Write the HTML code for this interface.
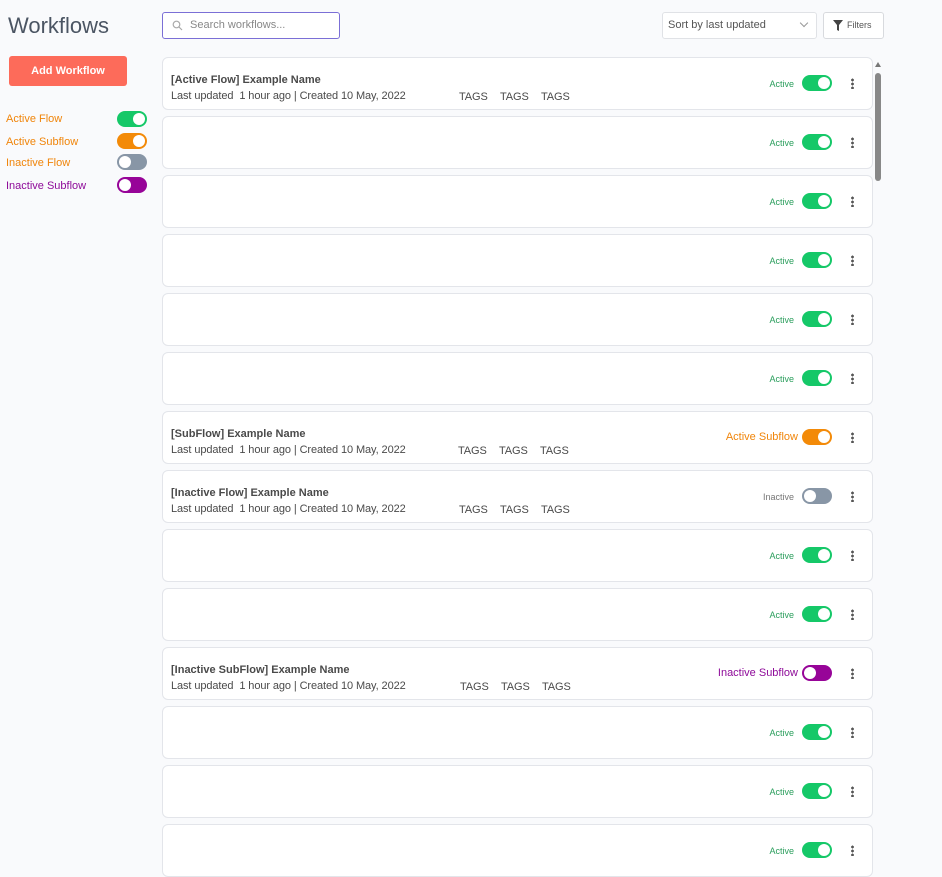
<!DOCTYPE html>
<html><head><meta charset="utf-8"><style>
*{box-sizing:border-box;margin:0;padding:0}
body{width:942px;height:873px;background:#f9fafc;font-family:"Liberation Sans",sans-serif;position:relative;overflow:hidden;color:#4a4a4a}
.a{position:absolute;white-space:nowrap}
.card{position:absolute;left:162px;width:711px;height:53px;background:#fff;border:1px solid #e3e5ea;border-radius:6px}
.tg{position:absolute;width:30px;height:16px;border-radius:8px}
.tg::after{content:"";position:absolute;top:2px;width:12px;height:12px;border-radius:50%;background:#fff}
.on::after{right:2px}.off::after{left:2px}
.dots{position:absolute;left:851px;width:3px;height:11px;background:radial-gradient(circle,#555 1.3px,transparent 1.5px) 0 0/3px 4px repeat-y}
.t1{font-size:11px;font-weight:bold;color:#4a4a4a}
.t2{font-size:11px;color:#4a4a4a;letter-spacing:-0.1px}
</style></head><body>
<div class="a" style="left:8px;top:13px;font-size:22px;color:#4b5563">Workflows</div>
<div class="a" style="left:162px;top:12px;width:178px;height:27px;border:1px solid #7b6fd6;border-radius:3px;background:#fff"></div>
<svg class="a" style="left:172px;top:20px" width="11" height="11"><circle cx="4.5" cy="4.5" r="3.3" fill="none" stroke="#aaa" stroke-width="1.2"/><line x1="7" y1="7" x2="10" y2="10" stroke="#aaa" stroke-width="1.2"/></svg>
<div class="a" style="left:190px;top:19px;font-size:11px;color:#888">Search workflows...</div>
<div class="a" style="left:662px;top:12px;width:155px;height:27px;border:1px solid #e0e2e6;border-radius:3px;background:#fff"></div>
<div class="a" style="left:668px;top:19px;font-size:11px;color:#555">Sort by last updated</div>
<div class="a" style="left:801px;top:20px;width:6px;height:6px;border-right:1px solid #999;border-bottom:1px solid #999;transform:rotate(45deg)"></div>
<div class="a" style="left:823px;top:12px;width:61px;height:27px;border:1px solid #d8dade;border-radius:3px;background:#fff"></div>
<svg class="a" style="left:833px;top:20px" width="10" height="11"><path d="M0 0H10L6 5V11L4 10V5Z" fill="#444"/></svg>
<div class="a" style="left:847px;top:20px;font-size:9px;color:#555">Filters</div>
<div class="a" style="left:9px;top:56px;width:118px;height:30px;background:#fd6b5a;border-radius:3px;color:#fff;font-size:11px;font-weight:bold;text-align:center;line-height:31px">Add Workflow</div>
<div class="a" style="left:6px;top:113px;font-size:11px;color:#f0850a">Active Flow</div>
<div class="a" style="left:6px;top:136px;font-size:11px;color:#f0850a">Active Subflow</div>
<div class="a" style="left:6px;top:157px;font-size:11px;color:#f0850a">Inactive Flow</div>
<div class="a" style="left:6px;top:180px;font-size:11px;color:#8e0a99">Inactive Subflow</div>
<div class="tg on" style="left:117px;top:111px;background:#15c868"></div>
<div class="tg on" style="left:117px;top:133px;background:#f38a08"></div>
<div class="tg off" style="left:117px;top:154px;background:#8896a6"></div>
<div class="tg off" style="left:117px;top:177px;background:#970498"></div>
<div class="a" style="left:875px;top:62px;width:0;height:0;border-left:3px solid transparent;border-right:3px solid transparent;border-bottom:5px solid #777"></div>
<div class="a" style="left:875px;top:73px;width:6px;height:108px;background:#888;border-radius:3px"></div>
<div id="c"></div>
<script>
var h='';
var sp={0:['[Active Flow] Example Name','Active','#2a9e5c','#15c868','on',459],6:['[SubFlow] Example Name','Active Subflow','#f0850a','#f38a08','on',458],7:['[Inactive Flow] Example Name','Inactive','#777','#8896a6','off',459],10:['[Inactive SubFlow] Example Name','Inactive Subflow','#8e0a99','#970498','off',460]};
for(var i=0;i<14;i++){
 var t=Math.round(57+i*59.0);
 var s=sp[i]||[null,'Active','#2a9e5c','#15c868','on',0];
 h+='<div class="card" style="top:'+t+'px"></div>';
 var cy=t+26;
 if(s[0]){
  h+='<div class="a t1" style="left:171px;top:'+(t+17)+'px">'+s[0]+'</div>';
  h+='<div class="a t2" style="left:171px;top:'+(t+33)+'px">Last updated&nbsp; 1 hour ago | Created 10 May, 2022</div>';
  for(var k=0;k<3;k++)h+='<div class="a t2" style="left:'+(s[5]+k*41)+'px;top:'+(t+34)+'px">TAGS</div>';
 }
 var big=s[1].length>8;
 h+='<div class="a" style="right:'+(big?144:148)+'px;top:'+(cy-(big?6:4))+'px;font-size:'+(big?11:9)+'px;color:'+s[2]+'">'+s[1]+'</div>';
 h+='<div class="tg '+s[4]+'" style="left:802px;top:'+(cy-8)+'px;background:'+s[3]+'"></div>';
 h+='<div class="dots" style="top:'+(cy-5)+'px"></div>';
}
document.getElementById('c').innerHTML=h;
</script>
</body></html>
